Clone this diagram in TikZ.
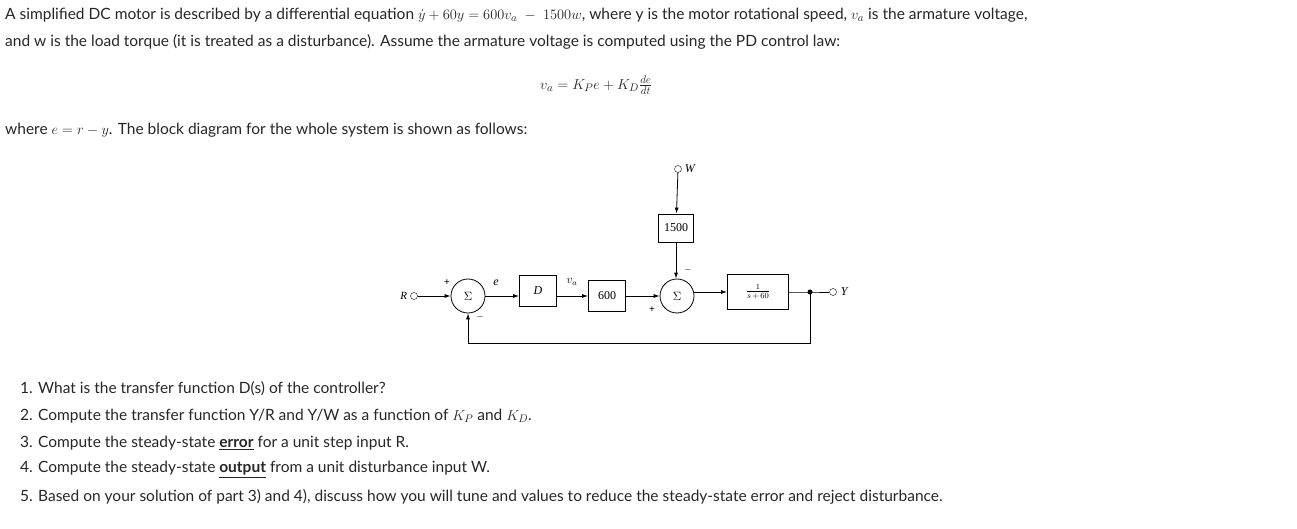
\documentclass[tikz,border=0pt]{standalone}
\usepackage{amsmath}
\usepackage{fontspec}
\setmainfont{Lato}
\newfontfamily\dfont{Liberation Serif}
\usetikzlibrary{arrows.meta,positioning}
\begin{document}
\begin{tikzpicture}[x=1pt,y=-1pt,
  txt/.style={anchor=west,inner sep=0,font=\fontsize{15.5}{18}\selectfont,text=black!85},
  blk/.style={draw,thick,minimum height=31,font=\dfont\fontsize{12}{14}\selectfont,inner sep=1},
  sumn/.style={draw,thick,circle,minimum size=34,inner sep=0,font=\fontsize{13}{14}\selectfont},
  term/.style={draw,circle,minimum size=7,inner sep=0},
  sig/.style={-{Latex[length=6,width=4]},thick},
  lab/.style={font=\dfont\itshape\fontsize{12}{14}\selectfont,inner sep=1}]
\useasboundingbox (0,0) rectangle (1297,529);
\node[txt] (l1) at (5,15) {A simplified DC motor is described by a differential equation $\dot y+60y=600v_a\;-\;1500w$, where y is the motor rotational speed, $v_a$ is the armature voltage,};
\node[txt] (l2) at (5,42) {and w is the load torque (it is treated as a disturbance). Assume the armature voltage is computed using the PD control law:};
\node[txt] (eq) at (540,85) {$v_a=K_Pe+K_D\frac{de}{dt}$};
\node[txt] (l3) at (5,130) {where $e=r-y$. The block diagram for the whole system is shown as follows:};
\node[txt] (q1) at (20,389) {1. What is the transfer function D(s) of the controller?};
\node[txt] (q2) at (20,416) {2. Compute the transfer function Y/R and Y/W as a function of $K_P$ and $K_D$.};
\node[txt] (q3) at (20,443) {3. Compute the steady-state \textbf{\underline{error}} for a unit step input R.};
\node[txt] (q4) at (20,470) {4. Compute the steady-state \textbf{\underline{output}} from a unit disturbance input W.};
\node[txt] (q5) at (20,497) {5. Based on your solution of part 3) and 4), discuss how you will tune and values to reduce the steady-state error and reject disturbance.};
% diagram
\node[term] (R) at (414,296) {};
\node[lab,left=2pt of R,font=\dfont\itshape\fontsize{11}{12}\selectfont] (Rl) {R};
\node[sumn] (s1) at (468,296) {$\Sigma$};
\node[blk,minimum width=37] (D) at (538,291) {\itshape D};
\node[blk,minimum width=37] (G) at (607,296) {600};
\node[sumn] (s2) at (677,296) {$\Sigma$};
\node[blk,minimum width=35,minimum height=28] (K) at (676,228) {1500};
\node[term] (W) at (678,169) {};
\node[lab,right=2pt of W] (Wl) {W};
\node[blk,minimum width=61,minimum height=35] (P) at (758,292) {$\frac{1}{s\,+\,60}$};
\coordinate (j) at (810,292);
\fill (j) circle (2.5);
\node[term] (Y) at (833,292) {};
\node[lab,right=3pt of Y] (Yl) {Y};
\coordinate (fb) at (810,343);
\draw[sig] (R) -- (s1);
\draw[sig] (s1) -- (D.west|-s1) ;
\draw[sig] (D.east|-G) -- (G);
\draw[sig] (G) -- (s2);
\draw[sig] (W) -- (K);
\draw[sig] (K.south) -- (s2.north-|K.south);
\draw[sig] (s2.east|-P) -- (P);
\draw[thick] (P) -- (j) -- (Y);
\draw[thick,-{Latex[length=6,width=4]}] (j) -- (fb) -| (s1.south);
\node[lab] (el) at (496,283) {e};
\node[lab] (val) at (572,282) {$v_a$};
\node[font=\fontsize{10}{10}\selectfont] (p1) at (447,283) {+};
\node[font=\fontsize{10}{10}\selectfont] (m1) at (480,317) {$-$};
\node[font=\fontsize{10}{10}\selectfont] (p2) at (652,310) {+};
\node[font=\fontsize{10}{10}\selectfont] (m2) at (688,270) {$-$};
\end{tikzpicture}
\end{document}
